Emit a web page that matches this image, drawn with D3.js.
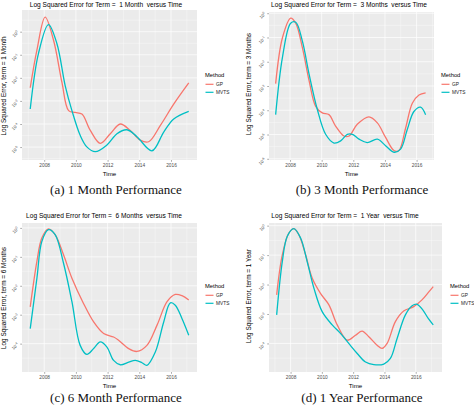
<!DOCTYPE html>
<html>
<head>
<meta charset="utf-8">
<script src="https://cdn.jsdelivr.net/npm/d3@7"></script>
<style>
  body { margin: 0; background: #fff; }
  svg { display: block; }
  text { white-space: pre; }
</style>
</head>
<body>
<svg id="svg" width="474" height="409"></svg>
<script>
// values are in "tick units" on the log scale (0 = lowest labelled tick)
const yearTicks = [2008, 2010, 2012, 2014, 2016];
const methods = ["GP", "MVTS"];
const colors = ["#F8766D", "#00BFC4"];

// (a) 1 month
const gpYearsA = [2007.12, 2007.54, 2008.06, 2008.59, 2009.12, 2009.54, 2009.96, 2010.38, 2010.91, 2011.54, 2012.17, 2012.80, 2013.43, 2014.06, 2014.59, 2015.33, 2016.17, 2017.12];
const gpA      = [2.57, 4.2, 5.63, 4.63, 2.8, 1.58, 1.5, 1.43, 0.72, 0.16, 0.58, 1.0, 0.72, 0.3, 0.23, 0.94, 1.86, 2.78];
const mvtsYearsA = [2007.12, 2007.64, 2008.27, 2008.8, 2009.33, 2009.75, 2010.27, 2010.69, 2011.22, 2011.96, 2012.59, 2013.22, 2013.85, 2014.8, 2015.54, 2016.17, 2017.12];
const mvtsA      = [1.65, 4.06, 5.31, 4.49, 2.64, 1.58, 0.51, 0.01, -0.2, 0.09, 0.58, 0.75, 0.45, -0.16, 0.65, 1.22, 1.55];
const yLabelsA = ["10^-5", "10^-4", "10^-3", "10^-2", "10^-1", "10^0"];

// (b) 3 months
const gpYearsB = [2007.09, 2007.52, 2008.04, 2008.36, 2008.78, 2009.2, 2009.62, 2010.04, 2010.46, 2010.88, 2011.41, 2011.73, 2012.25, 2012.99, 2013.52, 2014.04, 2014.57, 2014.88, 2015.31, 2015.73, 2016.15, 2016.57];
const gpB      = [3.10, 4.99, 5.80, 5.59, 4.58, 3.23, 2.16, 1.89, 1.82, 1.35, 0.94, 0.94, 1.42, 1.73, 1.48, 0.88, 0.34, 0.34, 1.28, 2.29, 2.63, 2.72];
const mvtsYearsB = [2007.09, 2007.52, 2008.04, 2008.36, 2008.78, 2009.2, 2009.73, 2010.25, 2010.78, 2011.2, 2011.62, 2011.94, 2012.36, 2012.88, 2013.52, 2014.04, 2014.57, 2014.99, 2015.41, 2015.83, 2016.25, 2016.57];
const mvtsB      = [1.82, 4.18, 5.59, 5.63, 4.85, 3.50, 2.02, 1.01, 0.65, 0.74, 1.01, 1.01, 0.81, 0.67, 0.81, 0.54, 0.27, 0.40, 1.21, 1.95, 2.13, 1.82];
const yLabelsB = ["10^-6", "10^-5", "10^-4", "10^-3", "10^-2", "10^-1", "10^0"];

// (c) 6 months
const gpYearsC = [2007.12, 2007.54, 2007.85, 2008.27, 2008.69, 2009.22, 2009.75, 2010.48, 2011.12, 2011.75, 2012.38, 2012.69, 2013.33, 2013.85, 2014.48, 2015.12, 2015.75, 2016.27, 2016.69, 2017.12];
const gpC      = [1.27, 2.84, 3.65, 3.97, 3.77, 3.07, 2.26, 1.39, 0.75, 0.35, 0.23, 0.12, -0.17, -0.27, -0.06, 0.64, 1.45, 1.70, 1.66, 1.51];
const mvtsYearsC = [2007.12, 2007.54, 2007.85, 2008.27, 2008.69, 2009.22, 2009.75, 2010.27, 2010.69, 2011.12, 2011.54, 2011.96, 2012.38, 2012.8, 2013.33, 2013.75, 2014.17, 2014.48, 2015.01, 2015.54, 2015.96, 2016.27, 2016.69, 2017.12];
const mvtsC      = [0.52, 2.26, 3.53, 3.94, 3.77, 2.78, 1.45, -0.06, -0.37, -0.17, 0.06, -0.12, -0.58, -0.73, -0.64, -0.58, -0.66, -0.75, -0.29, 0.75, 1.41, 1.33, 0.87, 0.29];
const yLabelsC = ["10^-4", "10^-3", "10^-2", "10^-1", "10^0"];

// (d) 1 year
const gpYearsD = [2007.11, 2007.47, 2007.89, 2008.21, 2008.53, 2008.96, 2009.38, 2009.91, 2010.45, 2010.98, 2011.62, 2012.15, 2012.57, 2013.0, 2013.53, 2013.85, 2014.17, 2014.7, 2015.23, 2015.87, 2016.4, 2016.85, 2017.12];
const gpD      = [1.65, 3.01, 3.75, 3.9, 3.69, 3.01, 2.22, 1.70, 1.31, 0.63, 0.11, 0.28, 0.42, 0.23, -0.06, -0.17, 0, 0.74, 1.10, 1.25, 1.48, 1.76, 1.93];
const mvtsYearsD = [2007.11, 2007.47, 2007.79, 2008.21, 2008.64, 2009.06, 2009.49, 2010.02, 2010.66, 2011.19, 2011.72, 2012.26, 2012.79, 2013.32, 2013.96, 2014.38, 2014.81, 2015.34, 2015.77, 2016.09, 2016.45, 2016.8, 2017.12];
const mvtsD      = [0.97, 2.78, 3.64, 3.9, 3.58, 2.78, 1.88, 1.08, 0.63, 0.34, 0, -0.34, -0.63, -0.72, -0.7, -0.51, 0.17, 0.97, 1.28, 1.33, 1.14, 0.85, 0.63];
const yLabelsD = ["10^-4", "10^-3", "10^-2", "10^-1", "10^0"];

const panels = [
  { box: [22, 197, 10, 160], xDom: [2006.6, 2017.64], yDom: [-0.56, 5.94],
    gp: [gpYearsA, gpA], mvts: [mvtsYearsA, mvtsA], yLabels: yLabelsA,
    title: "Log Squared Error for Term =  1 Month  versus Time", titleX: 106, titleY: 6.5,
    yTitle: "Log Squared Error, term = 1 Month", yTitleX: 6, yTitleY: 86,
    caption: "(a) 1 Month Performance", capX: 116, capY: 194, legX: 205, legY: 77 },
  { box: [269, 434, 12, 160], xDom: [2006.67, 2017.1], yDom: [-0.05, 6.05],
    gp: [gpYearsB, gpB], mvts: [mvtsYearsB, mvtsB], yLabels: yLabelsB,
    title: "Log Squared Error for Term =  3 Months  versus Time", titleX: 349, titleY: 6.5,
    yTitle: "Log Squared Error, term = 3 Months", yTitleX: 251, yTitleY: 84,
    caption: "(b) 3 Month Performance", capX: 362, capY: 194, legX: 441, legY: 77 },
  { box: [22, 197, 223, 372], xDom: [2006.6, 2017.64], yDom: [-0.98, 4.17],
    gp: [gpYearsC, gpC], mvts: [mvtsYearsC, mvtsC], yLabels: yLabelsC,
    title: "Log Squared Error for Term =  6 Months  versus Time", titleX: 104, titleY: 217.5,
    yTitle: "Log Squared Error, term = 6 Months", yTitleX: 6, yTitleY: 298,
    caption: "(c) 6 Month Performance", capX: 116, capY: 402, legX: 205, legY: 288 },
  { box: [269, 442, 223, 372], xDom: [2006.62, 2017.68], yDom: [-0.97, 4.09],
    gp: [gpYearsD, gpD], mvts: [mvtsYearsD, mvtsD], yLabels: yLabelsD,
    title: "Log Squared Error for Term =  1 Year  versus Time", titleX: 345, titleY: 217.5,
    yTitle: "Log Squared Error, term = 1 Year", yTitleX: 251, yTitleY: 296,
    caption: "(d) 1 Year Performance", capX: 362, capY: 402, legX: 450, legY: 288 }
];

const svg = d3.select("#svg");
const sans = "Liberation Sans, Arial, sans-serif";

function drawPanel(p) {
  const [x0, x1, y0, y1] = p.box;
  const x = d3.scaleLinear().domain(p.xDom).range([x0, x1]);
  const y = d3.scaleLinear().domain(p.yDom).range([y1, y0]);
  const yTicks = d3.range(p.yLabels.length);
  const g = svg.append("g");

  g.append("rect").attr("x", x0).attr("y", y0)
    .attr("width", x1 - x0).attr("height", y1 - y0).attr("fill", "#EBEBEB");

  // minor grid
  const xMinor = yearTicks.map(v => v - 1).concat([yearTicks[yearTicks.length - 1] + 1]);
  g.selectAll(".xminor").data(xMinor.filter(v => v > p.xDom[0] && v < p.xDom[1])).enter()
    .append("line").attr("x1", d => x(d)).attr("x2", d => x(d))
    .attr("y1", y0).attr("y2", y1).attr("stroke", "#fff").attr("stroke-width", 0.35);
  const yMinor = yTicks.map(v => v - 0.5).concat([yTicks.length - 0.5]);
  g.selectAll(".yminor").data(yMinor.filter(v => v > p.yDom[0] && v < p.yDom[1])).enter()
    .append("line").attr("y1", d => y(d)).attr("y2", d => y(d))
    .attr("x1", x0).attr("x2", x1).attr("stroke", "#fff").attr("stroke-width", 0.35);

  // major grid
  g.selectAll(".xmajor").data(yearTicks).enter()
    .append("line").attr("x1", d => x(d)).attr("x2", d => x(d))
    .attr("y1", y0).attr("y2", y1).attr("stroke", "#fff").attr("stroke-width", 0.7);
  g.selectAll(".ymajor").data(yTicks.filter(v => v >= p.yDom[0] && v <= p.yDom[1])).enter()
    .append("line").attr("y1", d => y(d)).attr("y2", d => y(d))
    .attr("x1", x0).attr("x2", x1).attr("stroke", "#fff").attr("stroke-width", 0.7);

  // axes
  const xAxis = d3.axisBottom(x).tickValues(yearTicks).tickSize(1.8).tickPadding(1.5).tickFormat(d3.format("d"));
  const gx = g.append("g").attr("transform", `translate(0,${y1})`).call(xAxis);
  gx.select(".domain").remove();
  gx.selectAll("line").attr("stroke", "#333").attr("stroke-width", 0.4);
  gx.selectAll("text").attr("fill", "#4D4D4D").attr("font-size", 4.8).attr("font-family", sans);

  const yAxis = d3.axisLeft(y).tickValues(yTicks).tickSize(1.8).tickFormat("");
  const gy = g.append("g").attr("transform", `translate(${x0},0)`).call(yAxis);
  gy.select(".domain").remove();
  gy.selectAll("line").attr("stroke", "#333").attr("stroke-width", 0.4);
  yTicks.forEach(t => {
    const [base, ex] = p.yLabels[t].split("^");
    const tx = g.append("text")
      .attr("transform", `translate(${x0 - 3},${y(t) + 1}) rotate(-45)`)
      .attr("text-anchor", "end").attr("fill", "#4D4D4D")
      .attr("font-size", 4.4).attr("font-family", sans);
    tx.append("tspan").text(base);
    tx.append("tspan").attr("dy", -1.6).attr("font-size", 3.2).text(ex);
  });

  // lines
  const line = d3.line().x(d => x(d[0])).y(d => y(d[1])).curve(d3.curveCatmullRom.alpha(0.5));
  [p.gp, p.mvts].forEach((s, i) => {
    const pts = s[0].map((yr, k) => [yr, s[1][k]]);
    g.append("path").datum(pts).attr("d", line)
      .attr("fill", "none").attr("stroke", colors[i]).attr("stroke-width", 1.3);
  });

  // titles
  g.append("text").attr("x", p.titleX).attr("y", p.titleY).attr("text-anchor", "middle")
    .attr("font-size", 6.6).attr("font-family", sans).text(p.title);
  g.append("text").attr("x", (x0 + x1) / 2).attr("y", y1 + 15.5).attr("text-anchor", "middle")
    .attr("font-size", 6.2).attr("font-family", sans).text("Time");
  g.append("text").attr("transform", `translate(${p.yTitleX},${p.yTitleY}) rotate(-90)`)
    .attr("text-anchor", "middle").attr("font-size", 6.4).attr("font-family", sans).text(p.yTitle);

  // legend
  const lg = g.append("g").attr("transform", `translate(${p.legX},${p.legY})`);
  lg.append("text").attr("x", 0).attr("y", 0).attr("font-size", 5.8).attr("font-family", sans).text("Method");
  methods.forEach((m, i) => {
    const yy = 7.3 + i * 8;
    lg.append("line").attr("x1", 0.5).attr("x2", 8.5).attr("y1", yy).attr("y2", yy)
      .attr("stroke", colors[i]).attr("stroke-width", 1.2);
    lg.append("text").attr("x", 11).attr("y", yy + 1.6).attr("font-size", 4.8)
      .attr("font-family", sans).attr("fill", "#222").text(m);
  });

  // caption
  g.append("text").attr("x", p.capX).attr("y", p.capY).attr("text-anchor", "middle")
    .attr("font-size", 13).attr("font-family", "Liberation Serif, serif")
    .attr("fill", "#111").text(p.caption);
}

panels.forEach(drawPanel);
</script>
</body>
</html>
